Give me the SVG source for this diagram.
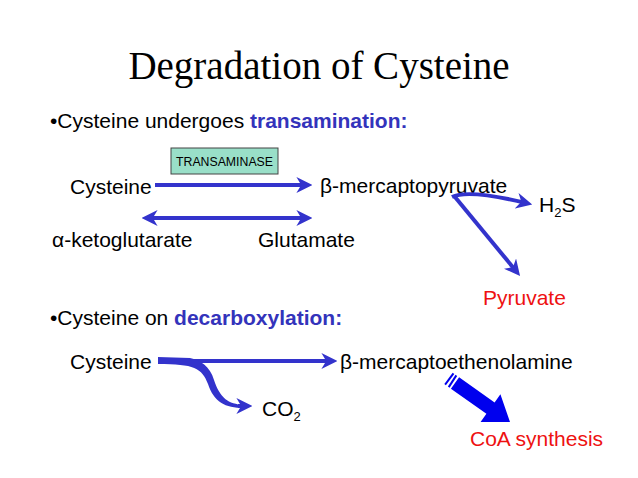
<svg xmlns="http://www.w3.org/2000/svg" width="638" height="478" viewBox="0 0 638 478">
<style>
.t{font-family:"Liberation Sans",Arial,sans-serif;font-size:21px;fill:#000}
.b{fill:#3333bb;font-weight:bold}
.r{fill:#ee1111}
.c{fill:none;stroke:#3333cc;stroke-width:4}
</style>
<defs>
<marker id="ah" viewBox="0 0 10 10" refX="6" refY="5" markerWidth="4" markerHeight="4" orient="auto-start-reverse" markerUnits="strokeWidth">
<path d="M0,0 L10,5 L0,10 L3,5 z" fill="#3333cc"/>
</marker>
</defs>
<rect width="638" height="478" fill="#fff"/>
<text x="319" y="79" text-anchor="middle" font-family="'Liberation Serif','Times New Roman',serif" font-size="39">Degradation of Cysteine</text>
<text class="t" x="50" y="128">•Cysteine undergoes <tspan class="b">transamination:</tspan></text>
<g id="transaminase"><rect x="171" y="148" width="107" height="26" fill="#99dfc8" stroke="#444" stroke-width="1"/><text x="224.5" y="166" text-anchor="middle" font-family="'Liberation Sans',Arial,sans-serif" font-size="12.3">TRANSAMINASE</text></g>
<g id="cysteine1"><text class="t" x="70" y="194">Cysteine</text></g>
<g id="bmp"><text class="t" x="320" y="193">β-mercaptopyruvate</text></g>
<g id="akg"><text class="t" x="52" y="247">α-ketoglutarate</text></g>
<g id="glu"><text class="t" x="258" y="247">Glutamate</text></g>
<g id="h2s"><text class="t" x="539" y="212">H<tspan font-size="13" dy="5">2</tspan><tspan dy="-5">S</tspan></text></g>
<g id="pyruvate"><text class="t r" x="483" y="305">Pyruvate</text></g>
<text class="t" x="50" y="325">•Cysteine on <tspan class="b">decarboxylation:</tspan></text>
<g id="cysteine2"><text class="t" x="70" y="369">Cysteine</text></g>
<g id="bme"><text class="t" x="340" y="369">β-mercaptoethenolamine</text></g>
<g id="co2"><text class="t" x="262" y="416">CO<tspan font-size="13" dy="5">2</tspan></text></g>
<g id="coa"><text class="t r" x="470" y="446">CoA synthesis</text></g>
<g id="connectors">
<line class="c" x1="155" y1="185" x2="306" y2="185" marker-end="url(#ah)"/>
<line class="c" x1="148" y1="218" x2="306" y2="218" marker-start="url(#ah)" marker-end="url(#ah)"/>
<path class="c" d="M452,197 Q468,189 526,203" marker-end="url(#ah)"/>
<line class="c" x1="455" y1="197" x2="516" y2="271" marker-end="url(#ah)"/>
<line class="c" x1="165" y1="361" x2="331" y2="361" marker-end="url(#ah)"/>
<path d="M158,357 L190,358 C200,360 210,366 214,380 C220,398 228,404 244,405 L244,408 C225,408 214,402 208,384 C202,368 194,364 158,364 Z" fill="#3333cc"/>
<line class="c" x1="238" y1="406" x2="246" y2="406" marker-end="url(#ah)"/>
<line x1="448.5" y1="378.4" x2="450.1" y2="379.6" stroke="#0000ee" stroke-width="14"/>
<line x1="451.7" y1="380.7" x2="453.4" y2="381.8" stroke="#0000ee" stroke-width="14"/>
<polygon points="450.9,388.7 459.1,377.3 494.6,402.4 500.4,394.3 510,422 480.6,421.9 486.4,413.8" fill="#0000ee"/>
</g>
</svg>
